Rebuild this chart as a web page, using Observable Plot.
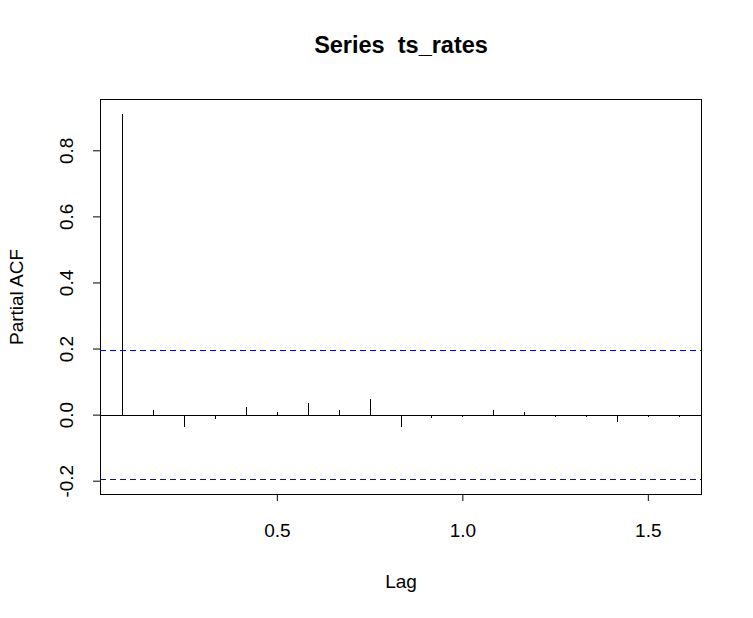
<!DOCTYPE html>
<html>
<head>
<meta charset="utf-8">
<script src="https://cdn.jsdelivr.net/npm/d3@7"></script>
<script src="https://cdn.jsdelivr.net/npm/@observablehq/plot@0.6"></script>
<style>
  html, body { margin: 0; padding: 0; background: #fff; }
  svg text { white-space: pre; }
</style>
</head>
<body>
<div id="chart"></div>
<script>
// Partial autocorrelation of ts_rates, lags in years (monthly series)
const lagIndex = [1,2,3,4,5,6,7,8,9,10,11,12,13,14,15,16,17,18,19];
const pacfValues = [0.911, 0.013, -0.038, -0.014, 0.022, 0.007, 0.034, 0.013, 0.047, -0.038,
                    -0.010, -0.008, 0.013, 0.007, -0.007, -0.007, -0.023, -0.008, -0.006];
const frequency = 12;
const ciBound = 0.196;
const xTicks = [0.5, 1.0, 1.5];
const yTicks = [-0.2, 0.0, 0.2, 0.4, 0.6, 0.8];
const titleText = "Series  ts_rates";
const xLabel = "Lag";
const yLabel = "Partial ACF";

const data = lagIndex.map((k, i) => ({lag: k / frequency, value: pacfValues[i]}));

// R-style 4% padding of ranges
const xMin = d3.min(data, d => d.lag), xMax = d3.max(data, d => d.lag);
const yMin = Math.min(-ciBound, d3.min(pacfValues)), yMax = Math.max(ciBound, d3.max(pacfValues));
const xPad = (xMax - xMin) * 0.04, yPad = (yMax - yMin) * 0.04;

const font = "'Liberation Sans', Arial, sans-serif";
const fmt = d => d.toFixed(1); // R uses ASCII hyphen-minus

const chart = Plot.plot({
  width: 753,
  height: 618,
  marginLeft: 100,
  marginRight: 52,
  marginTop: 99,
  marginBottom: 124,
  style: {fontFamily: font, fontSize: "19px", color: "black", background: "white"},
  x: {domain: [xMin - xPad, xMax + xPad]},
  y: {domain: [yMin - yPad, yMax + yPad]},
  marks: [
    Plot.frame({stroke: "black", strokeWidth: 1, shapeRendering: "crispEdges"}),
    Plot.ruleY([0], {stroke: "black", strokeWidth: 1, shapeRendering: "crispEdges"}),
    Plot.ruleY([ciBound, -ciBound], {stroke: "#0000ff", strokeWidth: 1, strokeDasharray: "6,4", shapeRendering: "crispEdges"}),
    Plot.ruleX(data, {x: "lag", y1: 0, y2: "value", stroke: "black", strokeWidth: 1, shapeRendering: "crispEdges"}),
    Plot.axisX({ticks: xTicks, tickFormat: fmt, tickSize: 7, tickPadding: 22,
      label: xLabel, labelAnchor: "center", labelArrow: "none", labelOffset: 93, fontSize: 19}),
    Plot.axisY({ticks: yTicks, tickFormat: fmt, tickSize: 7, tickPadding: 21, tickRotate: -90,
      label: yLabel, labelAnchor: "center", labelArrow: "none", labelOffset: 91, fontSize: 19}),
    Plot.text([titleText], {frameAnchor: "top", lineAnchor: "bottom", dy: -47, fontWeight: "bold", fontSize: 23.5, fill: "black"})
  ]
});
document.getElementById("chart").appendChild(chart);
</script>
</body>
</html>
